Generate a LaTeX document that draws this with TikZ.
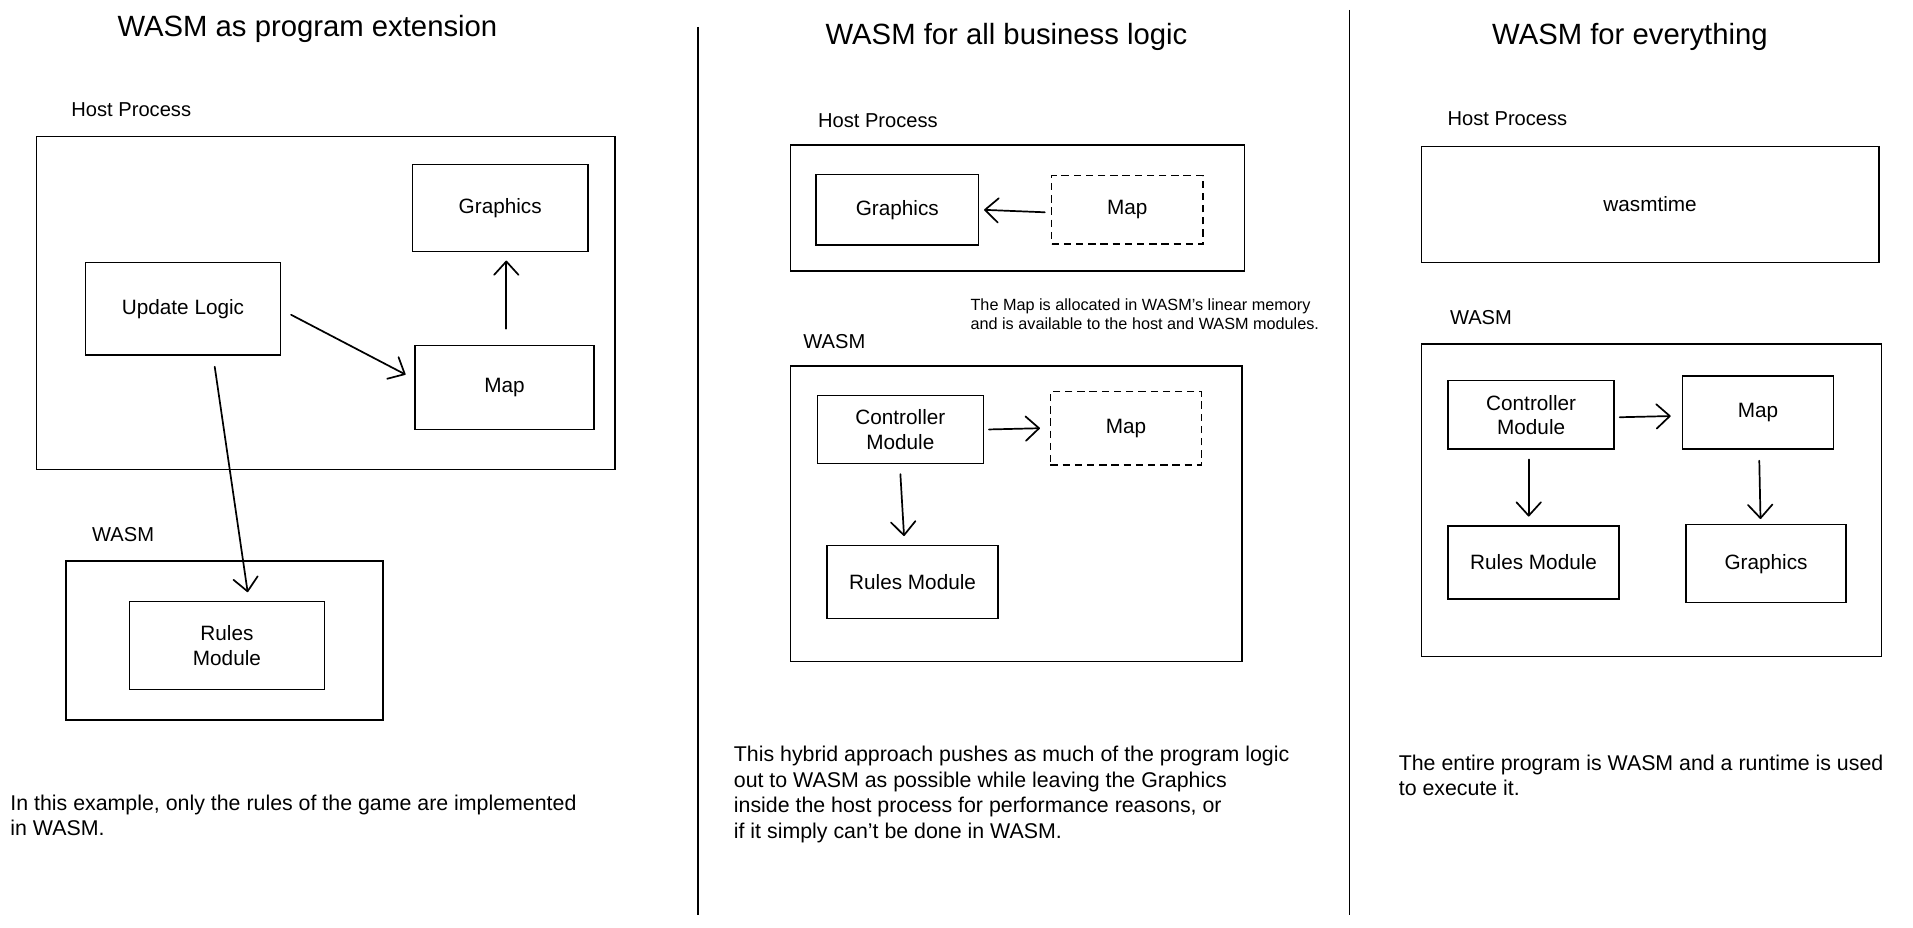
\documentclass[tikz,border=0pt]{standalone}
\usepackage{fontspec}
\setmainfont{Liberation Sans}
\usetikzlibrary{arrows.meta}
\begin{document}
\begin{tikzpicture}[x=1pt,y=-1pt,
  box/.style={draw,line width=1.2pt},
  dbox/.style={draw,line width=1.2pt,dash pattern=on 6pt off 4pt},
  lbl/.style={font=\fontsize{17}{20}\selectfont,align=center},
  ttl/.style={font=\fontsize{24}{28}\selectfont},
  hd/.style={font=\fontsize{16.5}{19}\selectfont,anchor=west},
  body/.style={font=\fontsize{17.5}{21}\selectfont,anchor=north west,align=left},
  arr/.style={line width=1.4pt,line cap=round,-{Straight Barb[length=11pt,width=20pt,line width=1.4pt,round]}}]
\useasboundingbox (0,0) rectangle (1568,760);
\draw[line width=1.3pt] (572,22) coordinate (d1a) -- (572,750) coordinate (d1b);
\draw[line width=1.3pt] (1106,8) coordinate (d2a) -- (1106,750) coordinate (d2b);
% left
\node[ttl] (t1) at (252,24) {WASM as program extension};
\node[hd] (hp1) at (55,90) {Host Process};
\draw[box] (30,112) rectangle (504,385);
\node[box,lbl,minimum width=144pt,minimum height=71pt] (g1) at (410,170.5) {Graphics};
\node[box,lbl,minimum width=160pt,minimum height=76pt] (u1) at (150,253) {Update Logic};
\node[box,lbl,minimum width=147pt,minimum height=69pt] (m1) at (413.5,317.5) {Map};
\node[hd] (w1) at (72,438) {WASM};
\draw[box] (54,460) rectangle (314,590);
\node[box,lbl,minimum width=160pt,minimum height=72pt] (r1) at (186,529) {Rules\\Module};
\draw[arr] ([xshift=8pt,yshift=-5pt]u1.east) -- ([xshift=-7pt,yshift=10.5pt]m1.west);
\draw[arr] ([xshift=1.5pt,yshift=13pt]m1.north) -- ([xshift=5pt,yshift=-7pt]g1.south);
\draw[arr] ([xshift=26pt,yshift=-9pt]u1.south) -- ([xshift=17pt,yshift=7pt]r1.north);
\node[body] (b1) at (5,648) {In this example, only the rules of the game are implemented\\in WASM.};
% middle
\node[ttl] (t2) at (825,30) {WASM for all business logic};
\node[hd] (hp2) at (667,99) {Host Process};
\draw[box] (648,119) rectangle (1020,222);
\node[box,lbl,minimum width=133pt,minimum height=58pt] (g2) at (735.5,172) {Graphics};
\node[dbox,lbl,minimum width=124pt,minimum height=56pt] (m2) at (924,172) {Map};
\draw[arr] ([xshift=-5pt,yshift=-2pt]m2.west) -- ([xshift=4pt]g2.east);
\node[anchor=north west,align=left,font=\fontsize{13.3}{15.5}\selectfont] (n2) at (792,241) {The Map is allocated in WASM's linear memory\\and is available to the host and WASM modules.};
\node[hd] (w2) at (655,280) {WASM};
\draw[box] (648,300) rectangle (1018,542);
\node[box,lbl,minimum width=136pt,minimum height=56pt] (c2) at (738,352) {Controller\\Module};
\node[dbox,lbl,minimum width=124pt,minimum height=60pt] (m2b) at (923,351) {Map};
\node[box,lbl,minimum width=140pt,minimum height=60pt] (r2) at (748,477) {Rules Module};
\draw[arr] ([xshift=4pt]c2.east) -- ([xshift=-8pt]m2b.west);
\draw[arr] ([yshift=-8pt]c2.south) -- ([xshift=-7pt,yshift=7pt]r2.north);
\node[body] (b2) at (598,608) {This hybrid approach pushes as much of the program logic\\out to WASM as possible while leaving the Graphics\\inside the host process for performance reasons, or\\if it simply can't be done in WASM.};
% right
\node[ttl] (t3) at (1336,30) {WASM for everything};
\node[hd] (hp3) at (1183,97) {Host Process};
\node[box,lbl,minimum width=375pt,minimum height=95pt] (wt) at (1352.5,167.5) {wasmtime};
\node[hd] (w3) at (1185,260) {WASM};
\draw[box] (1165,282) rectangle (1542,538);
\node[box,lbl,minimum width=136pt,minimum height=56pt] (c3) at (1255,340) {Controller\\Module};
\node[box,lbl,minimum width=124pt,minimum height=60pt] (m3) at (1441,338) {Map};
\node[box,lbl,minimum width=140pt,minimum height=60pt] (r3) at (1257,461) {Rules Module};
\node[box,lbl,minimum width=131pt,minimum height=64pt] (g3) at (1447.5,462) {Graphics};
\draw[arr] ([xshift=4pt,yshift=-2pt]c3.east) -- ([xshift=-9pt,yshift=-3pt]m3.west);
\draw[arr] ([xshift=-2pt,yshift=-8pt]c3.south) -- ([xshift=-4pt,yshift=7pt]r3.north);
\draw[arr] ([xshift=1pt,yshift=-9pt]m3.south) -- ([xshift=-4.5pt,yshift=4pt]g3.north);
\node[body] (b3) at (1143,615) {The entire program is WASM and a runtime is used\\to execute it.};
\end{tikzpicture}
\end{document}
